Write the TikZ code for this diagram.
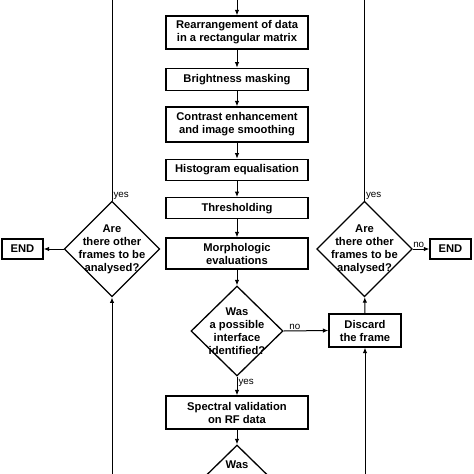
\documentclass[tikz,border=0pt]{standalone}
\usepackage{fontspec}
\setmainfont{Liberation Sans}
\usetikzlibrary{shapes.geometric,arrows.meta}

\begin{document}
\begin{tikzpicture}[
    x=1pt, y=-1pt,
    stepbox/.style={rectangle, draw, line width=1.3pt, minimum width=142pt, align=center, inner sep=2pt, font=\bfseries\fontsize{11.2}{13}\selectfont},
    decision/.style={diamond, draw, line width=1.3pt, aspect=1, inner sep=-5pt, align=center, font=\bfseries\fontsize{11.2}{13}\selectfont},
    endbox/.style={rectangle, draw, line width=1.3pt, minimum width=41pt, minimum height=20pt, inner sep=1pt, font=\bfseries\fontsize{11.2}{13}\selectfont},
    answer/.style={font=\fontsize{9.8}{11}\selectfont, inner sep=1pt},
    arrow/.style={-{Latex[length=5.5pt,width=4.5pt]}, line width=1pt}
]
\clip (0,0) rectangle (474,474);

% Main processing chain (centre)
\node[stepbox, minimum height=33pt] (rearrange) at (237,32.5) {Rearrangement of data\\in a rectangular matrix};
\node[stepbox, minimum height=22pt] (masking) at (237,79.3) {Brightness masking};
\node[stepbox, minimum height=35pt] (contrast) at (237,124.5) {Contrast enhancement\\and image smoothing};
\node[stepbox, minimum height=21pt] (histogram) at (237,169.8) {Histogram equalisation};
\node[stepbox, minimum height=21pt] (threshold) at (237,208.2) {Thresholding};
\node[stepbox, minimum height=31pt] (morpho) at (237,253.5) {Morphologic\\evaluations};
\node[decision, minimum width=92pt, minimum height=90pt] (interface) at (237,331) {Was\\a possible\\interface\\identified?};
\node[stepbox, minimum height=33pt] (spectral) at (237,412.5) {Spectral validation\\on RF data};
\node[decision, inner sep=0pt, minimum width=92pt, minimum height=90pt] (validated) at (237,490) {};
\node[font=\bfseries\fontsize{11.2}{13}\selectfont] (validtext) at (237,465) {Was};

% Discard branch (right)
\node[stepbox, minimum width=72pt, minimum height=33pt] (discard) at (365,330.5) {Discard\\the frame};
\node[decision, minimum width=91pt, minimum height=87pt] (moreright) at (364.5,249) {Are\\there other\\frames to be\\analysed?};
\node[endbox] (endright) at (450.5,249) {END};

% Frame loop (left)
\node[decision, minimum width=91pt, minimum height=87pt] (moreleft) at (112,249) {Are\\there other\\frames to be\\analysed?};
\node[endbox] (endleft) at (22.5,249) {END};

% Loose ends leaving the picture
\coordinate (topin) at (237,-5);
\coordinate (leftup) at (112,-5);
\coordinate (rightup) at (364.5,-5);
\coordinate (leftdown) at (112,480);
\coordinate (rightdown) at (365,480);

% Chain arrows
\draw[arrow] (topin) -- (rearrange);
\draw[arrow] (rearrange) -- (masking);
\draw[arrow] (masking) -- (contrast);
\draw[arrow] (contrast) -- (histogram);
\draw[arrow] (histogram) -- (threshold);
\draw[arrow] (threshold) -- (morpho);
\draw[arrow] (morpho) -- (interface);
\draw[arrow] (interface) -- node[answer, right, pos=0.35] {yes} (spectral);
\draw[arrow] (spectral) -- (validated);

% Discard arrows
\draw[arrow] (interface.east) -- node[answer, above, pos=0.25] {no} (discard.west);
\draw[arrow] (discard) -- (moreright);
\draw[arrow] (rightdown) -- (discard.south);
\draw[arrow] (moreright.east) -- node[answer, above, pos=0.35] {no} (endright);
\draw[line width=1pt] (moreright.north) -- node[answer, anchor=south west, pos=0] {yes} (rightup);

% Loop arrows
\draw[arrow] (leftdown) -- (moreleft.south);
\draw[arrow] (moreleft.west) -- (endleft);
\draw[line width=1pt] (moreleft.north) -- node[answer, anchor=south west, pos=0] {yes} (leftup);

\end{tikzpicture}
\end{document}
